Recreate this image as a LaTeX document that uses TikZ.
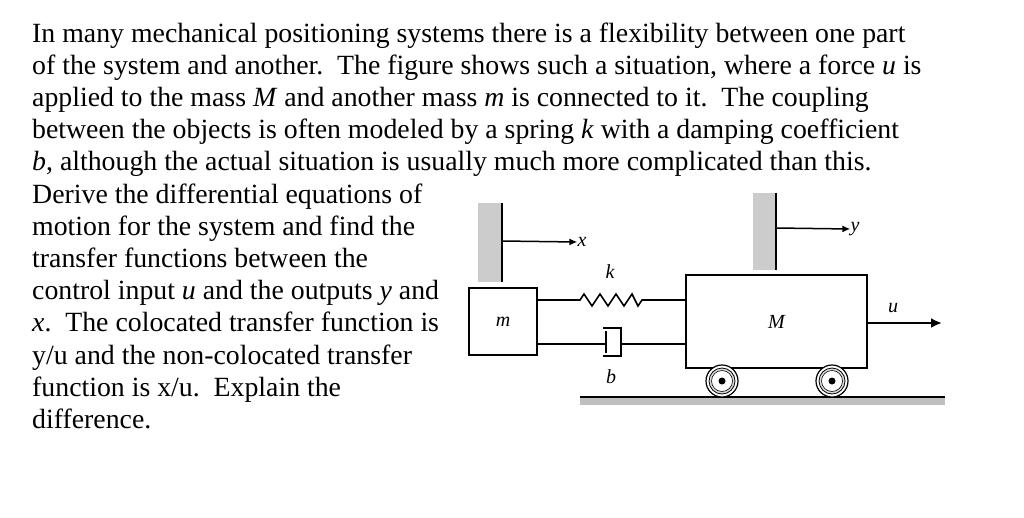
\documentclass[tikz,border=0pt]{standalone}
\usepackage{fontspec}
\setmainfont{Liberation Serif}
\usetikzlibrary{arrows.meta}
\begin{document}
\begin{tikzpicture}[x=1pt,y=-1pt,
  txt/.style={anchor=base west,inner sep=0pt,font=\fontsize{27.8}{32}\selectfont},
  lbl/.style={inner sep=0pt,font=\fontsize{20}{22}\selectfont\itshape},
  ln/.style={line width=1.6pt},
  arr/.style={line width=1.5pt,-{Latex[length=8pt,width=7pt]}},
  bar/.style={fill=black!20,draw=none}]
\useasboundingbox (0,0) rectangle (1024,517);
\foreach \t [count=\i from 0] in {
 {In many mechanical positioning systems there is a flexibility between one part},
 {of the system and another.\ \ The figure shows such a situation, where a force \textit{u} is},
 {applied to the mass \textit{M} and another mass \textit{m} is connected to it.\ \ The coupling},
 {between the objects is often modeled by a spring \textit{k} with a damping coefficient},
 {\textit{b}, although the actual situation is usually much more complicated than this.},
 {Derive the differential equations of},
 {motion for the system and find the},
 {transfer functions between the},
 {control input \textit{u} and the outputs \textit{y} and},
 {\textit{x}.\ \ The colocated transfer function is},
 {y/u and the non-colocated transfer},
 {function is x/u.\ \ Explain the},
 {difference.}}
 \node[txt] (t\i) at (32,{42+32.2*\i}) {\t};
% x reference
\fill[bar] (478,203) rectangle (501,282);
\coordinate (xw) at (502,241);
\draw[ln] (502,203) -- (502,282);
\node[lbl] (xl) at (582,242) {x};
\draw[arr] (xw) -- (xl.west);
% m box
\node[draw,ln,minimum width=68pt,minimum height=67pt,inner sep=0pt,font=\fontsize{20}{22}\selectfont\itshape] (m) at (503,321.5) {m};
% M box
\node[draw,ln,minimum width=181pt,minimum height=93pt,inner sep=0pt,font=\fontsize{20}{22}\selectfont\itshape] (M) at (776.5,321.5) {M};
% y reference
\fill[bar] (753,193) rectangle (775,270);
\draw[ln] (776,193) -- (776,270);
\node[lbl] (yl) at (855,229) {y};
\draw[arr] (776,228) -- (yl.west);
% spring
\draw[ln] (m.east |- 0,300) -- (580,300) -- (584,294) -- (592,306) -- (600,294) -- (608,306) -- (616,294) -- (624,306) -- (632,294) -- (638,306) -- (642,300) -- (M.west |- 0,300);
\node[lbl] (k) at (610,272) {k};
% damper
\draw[ln] (m.east |- 0,344) -- (606,344);
\draw[ln] (603,328) -- (621,328) -- (621,356) -- (603,356);
\draw[ln] (606,331) -- (606,353);
\draw[ln] (621,344) -- (M.west |- 0,344);
\node[lbl] (b) at (611,377) {b};
% force
\draw[line width=2.3pt,-{Latex[length=11pt,width=10pt]}] (M.east |- 0,323) -- (942,323);
\node[lbl] (u) at (893,308) {u};
% ground
\fill[black!25] (580,397) rectangle (945,405);
\draw[ln] (580,397) -- (945,397);
% wheels
\foreach \cx in {722,832}{
  \draw[line width=1.2pt,fill=white] (\cx,381) circle (16);
  \draw[line width=0.8pt,fill=black!15] (\cx,381) circle (13);
  \draw[line width=0.6pt,fill=white] (\cx,381) circle (10.5);
  \fill (\cx,381) circle (3.5);
}
\end{tikzpicture}
\end{document}
